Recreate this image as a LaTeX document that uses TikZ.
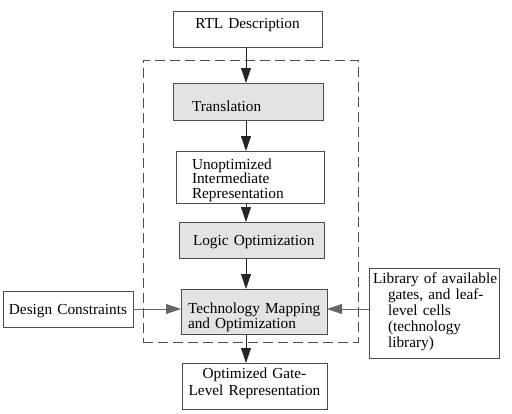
\documentclass[tikz,border=0pt]{standalone}
\usepackage{fontspec}
\setmainfont{Liberation Serif}
\usetikzlibrary{arrows.meta}
\begin{document}
\begin{tikzpicture}[x=1pt,y=-1pt,
  box/.style={draw=black!70, line width=0.8pt, inner ysep=0pt, outer sep=0pt,
    anchor=north west, align=left, font=\fontsize{15.3}{15}\selectfont},
  ctrbox/.style={box, align=center},
  shaded/.style={box, fill=black!11},
  conn/.style={draw=black!85, line width=0.8pt, -{Triangle[length=15pt,width=10pt]}},
  hconn/.style={conn, draw=black!60},
  dashbox/.style={draw=black!70, line width=0.8pt, dash pattern=on 10pt off 5pt,
    anchor=north west, inner sep=0pt, outer sep=0pt}]
\useasboundingbox (0,0) rectangle (512,413);
\node[dashbox, minimum width=215pt, minimum height=282pt] (core) at (143,60) {};
\node[ctrbox, inner xsep=4pt, text width=141pt, text height=17pt, text depth=19pt] (rtl) at (173,11) {RTL Description};
\node[shaded, inner xsep=19pt, text width=112pt, text height=28pt, text depth=9pt] (trans) at (173,83) {Translation};
\node[box, inner xsep=16pt, text width=116pt, text height=18pt, text depth=34pt,
  font=\fontsize{15.3}{14.5}\selectfont] (unopt) at (176,151) {Unoptimized\\Intermediate\\Representation};
\node[shaded, inner xsep=14pt, text width=117pt, text height=23pt, text depth=13pt] (logic) at (179,222) {\mbox{Logic Optimization}};
\node[shaded, inner xsep=7pt, text width=132pt, text height=24pt, text depth=21pt] (tech) at (181,289) {\mbox{Technology Mapping}\\and Optimization};
\node[ctrbox, inner xsep=2pt, text width=126pt, text height=23pt, text depth=13pt] (dc) at (3,291) {\mbox{Design Constraints}};
\node[box, inner xsep=4pt, text width=122pt, text height=15pt, text depth=75pt,
  font=\fontsize{15.3}{16}\selectfont] (lib) at (369,268) {\mbox{Library of available}\\\hspace*{15pt}gates, and leaf-\\\hspace*{15pt}level cells\\\hspace*{15pt}(technology\\\hspace*{15pt}library)};
\node[ctrbox, inner xsep=3pt, text width=139pt, text height=15pt, text depth=31pt,
  font=\fontsize{15.3}{17}\selectfont] (opt) at (182,363) {Optimized Gate-\\\mbox{Level Representation}};
\coordinate (ax) at (246,0);
\draw[conn] (rtl.south -| ax) -- (trans.north -| ax);
\draw[conn] (trans.south -| ax) -- (unopt.north -| ax);
\draw[conn] (unopt.south -| ax) -- (logic.north -| ax);
\draw[conn] (logic.south -| ax) -- (tech.north -| ax);
\draw[conn] (tech.south -| ax) -- (opt.north -| ax);
\draw[hconn] (dc.east) -- (dc.east -| tech.west);
\draw[hconn] (lib.west |- dc.east) -- (tech.east |- dc.east);
\end{tikzpicture}
\end{document}
